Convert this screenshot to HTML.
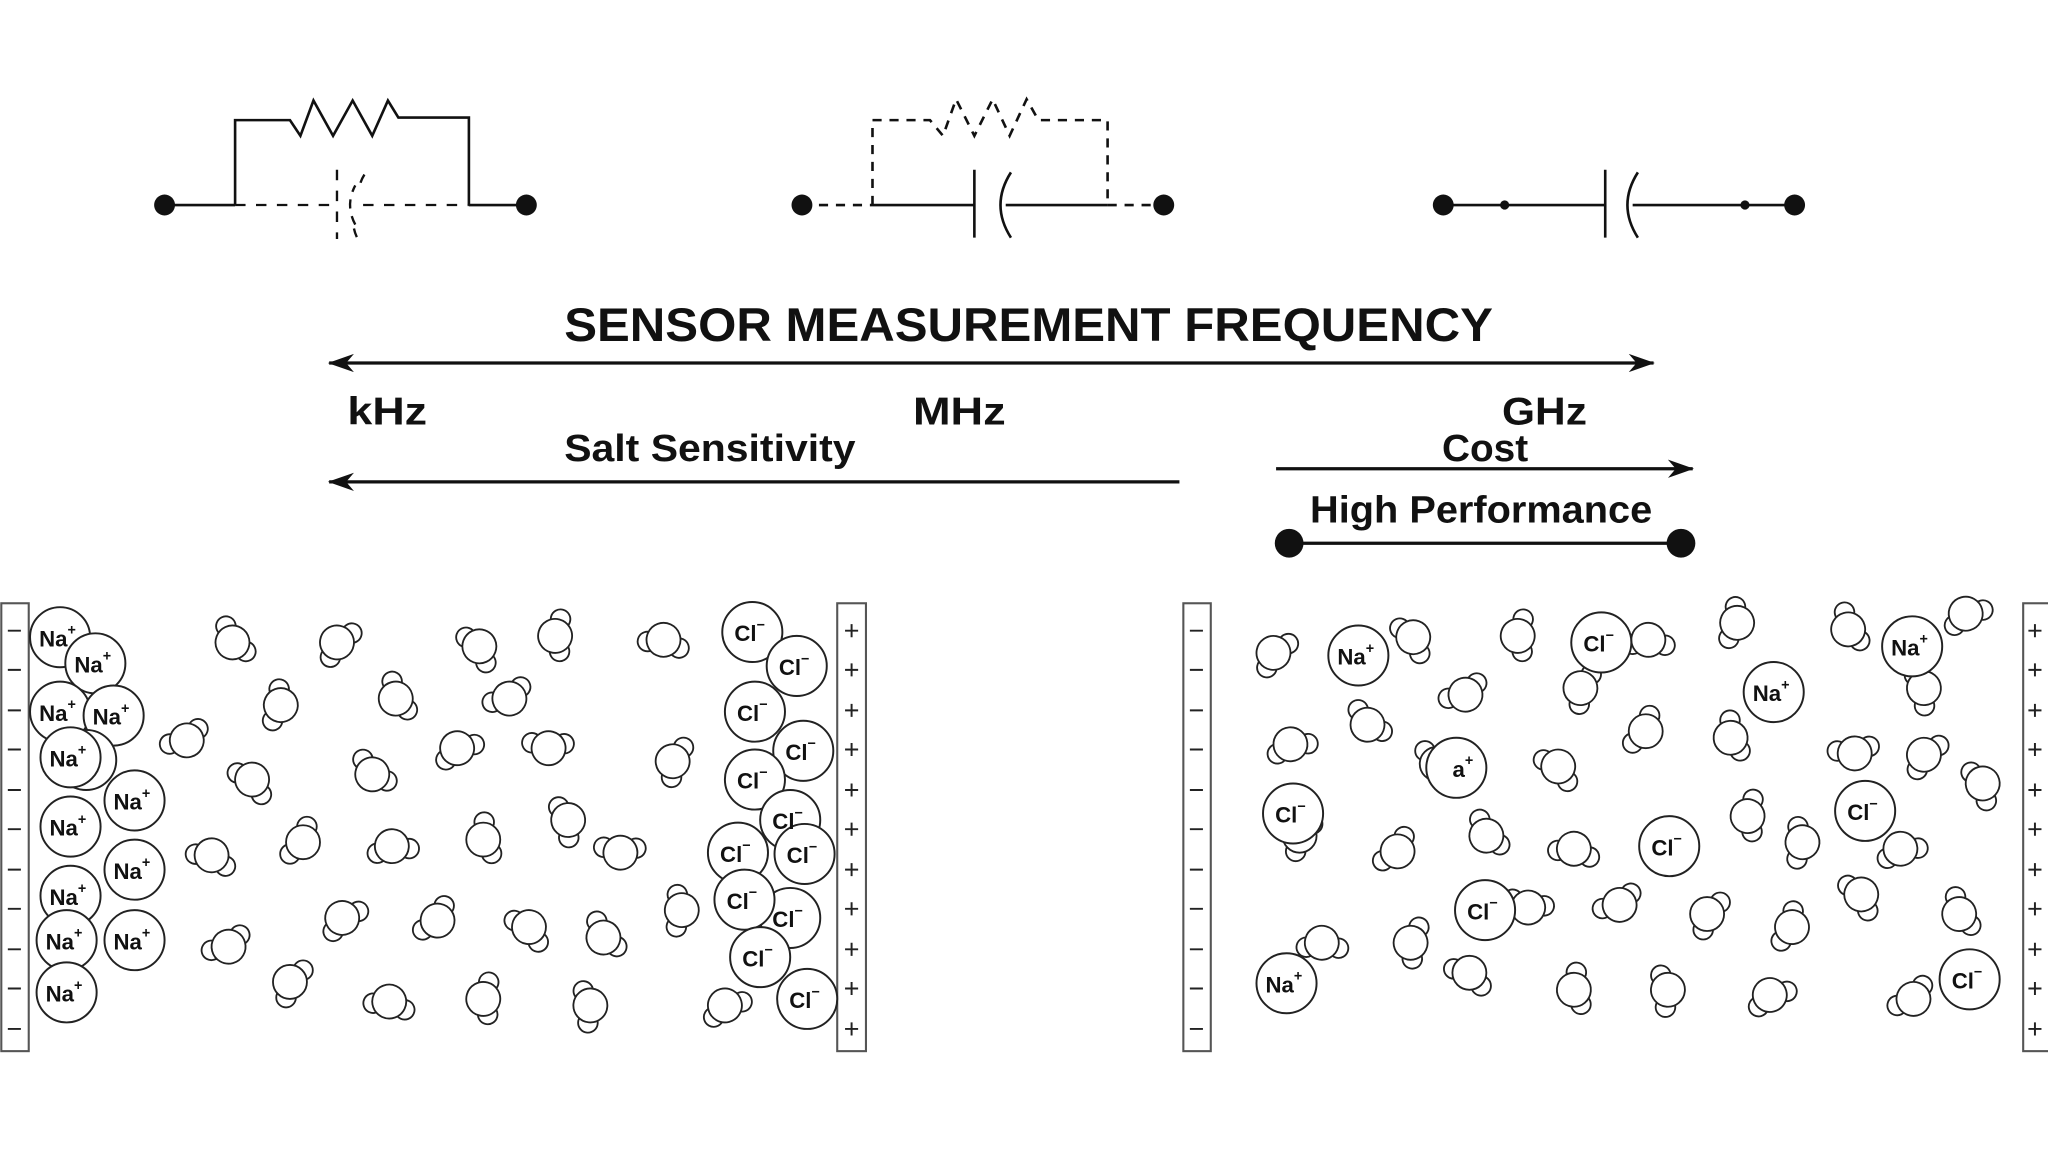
<!DOCTYPE html>
<html><head><meta charset="utf-8"><style>
html,body{margin:0;padding:0;background:#fff;}
svg{display:block;}
text{font-family:"Liberation Sans",sans-serif;font-weight:bold;fill:#111;}
</style></head><body>
<svg width="2048" height="1153" viewBox="0 0 1568 883" preserveAspectRatio="none" xmlns="http://www.w3.org/2000/svg">
<defs>
<g id="w" stroke="#222" stroke-width="1.4" fill="#fff">
<circle cx="-9" cy="-10" r="7.5"/><circle cx="12" cy="3" r="7.5"/><circle cx="0" cy="0" r="13"/>
</g>
<marker id="ah" viewBox="0 0 20 14" refX="19" refY="7" markerWidth="20" markerHeight="14" markerUnits="userSpaceOnUse" orient="auto-start-reverse">
<path d="M20,7 L0,0 L6,7 L0,14 Z" fill="#111"/></marker>
</defs>
<g stroke="#111" stroke-width="2" fill="none">
<!-- circuit 1 -->
<path d="M126,157 H180 M359,157 H403"/>
<path d="M180,157 V92 H222 L230,104 L240,77 L255,104 L270,77 L285,104 L297,77 L305,90 H359 V157"/>
<path d="M180,157 H258 M278,157 H359" stroke-dasharray="8,8" stroke-width="1.8"/>
<path d="M258,130 V183" stroke-dasharray="8,8" stroke-width="1.8"/>
<path d="M272,172 Q264,157 272,142 M276,140 Q278,134 282,130 M271,175 Q272,180 275,185" stroke-width="1.8" stroke-dasharray="7,6"/>
<!-- circuit 2 -->
<path d="M614,157 H668 M848,157 H891" stroke-dasharray="7,6"/>
<path d="M668,157 V92 H712 L722,104 L732,76 L746,104 L760,76 L773,104 L786,76 L795,92 H848 V157" stroke-dasharray="7,6"/>
<path d="M668,157 H746 M770,157 H848"/>
<path d="M746,130 V182"/>
<path d="M774,132 Q758,157 774,182"/>
<!-- circuit 3 -->
<path d="M1105,157 H1229 M1250,157 H1374"/>
<path d="M1229,130 V182"/>
<path d="M1254,132 Q1238,157 1254,182"/>
<!-- arrows -->
<path d="M252,278 H1266" marker-start="url(#ah)" marker-end="url(#ah)" stroke-width="2.5"/>
<path d="M903,369 H252" marker-end="url(#ah)" stroke-width="2.5"/>
<path d="M977,359 H1296" marker-end="url(#ah)" stroke-width="2.5"/>
<path d="M987,416 H1287" stroke-width="2.5"/>
</g>
<g fill="#111">
<circle cx="126" cy="157" r="8"/><circle cx="403" cy="157" r="8"/>
<circle cx="614" cy="157" r="8"/><circle cx="891" cy="157" r="8"/>
<circle cx="1105" cy="157" r="8"/><circle cx="1374" cy="157" r="8"/>
<circle cx="1152" cy="157" r="3.5"/><circle cx="1336" cy="157" r="3.5"/>
<circle cx="987" cy="416" r="11"/><circle cx="1287" cy="416" r="11"/>
</g>
<text x="432" y="261" font-size="36" textLength="711" lengthAdjust="spacingAndGlyphs">SENSOR MEASUREMENT FREQUENCY</text>
<text x="266" y="325" font-size="30" textLength="61" lengthAdjust="spacingAndGlyphs">kHz</text>
<text x="699" y="325" font-size="30" textLength="71" lengthAdjust="spacingAndGlyphs">MHz</text>
<text x="1150" y="325" font-size="30" textLength="65" lengthAdjust="spacingAndGlyphs">GHz</text>
<text x="432" y="353" font-size="29" textLength="223" lengthAdjust="spacingAndGlyphs">Salt Sensitivity</text>
<text x="1104" y="353" font-size="29" textLength="66" lengthAdjust="spacingAndGlyphs">Cost</text>
<text x="1003" y="400" font-size="29" textLength="262" lengthAdjust="spacingAndGlyphs">High Performance</text>
<!-- plates -->
<g fill="#fff" stroke="#555" stroke-width="1.6">
<rect x="1" y="462" width="21" height="343"/><rect x="641" y="462" width="22" height="343"/>
<rect x="906" y="462" width="21" height="343"/><rect x="1549" y="462" width="25" height="343"/>
</g>
<g stroke="#222" stroke-width="1.5">
<path d="M6,483h10M6,513h10M6,544h10M6,574h10M6,605h10M6,635h10M6,666h10M6,696h10M6,727h10M6,757h10M6,788h10"/>
<path d="M911,483h10M911,513h10M911,544h10M911,574h10M911,605h10M911,635h10M911,666h10M911,696h10M911,727h10M911,757h10M911,788h10"/>
<path d="M647,483h10M647,513h10M647,544h10M647,574h10M647,605h10M647,635h10M647,666h10M647,696h10M647,727h10M647,757h10M647,788h10"/>
<path d="M652,478v10M652,508v10M652,539v10M652,569v10M652,600v10M652,630v10M652,661v10M652,691v10M652,722v10M652,752v10M652,783v10"/>
<path d="M1553,483h10M1553,513h10M1553,544h10M1553,574h10M1553,605h10M1553,635h10M1553,666h10M1553,696h10M1553,727h10M1553,757h10M1553,788h10"/>
<path d="M1558,478v10M1558,508v10M1558,539v10M1558,569v10M1558,600v10M1558,630v10M1558,661v10M1558,691v10M1558,722v10M1558,752v10M1558,783v10"/>
</g>
<!-- waters -->
<use href="#w" transform="translate(178,492) rotate(20)"/><use href="#w" transform="translate(258,492) rotate(100)"/>
<use href="#w" transform="translate(367,495) rotate(200)"/><use href="#w" transform="translate(425,487) rotate(60)"/>
<use href="#w" transform="translate(508,490) rotate(160)"/><use href="#w" transform="translate(215,540) rotate(250)"/>
<use href="#w" transform="translate(303,535) rotate(30)"/><use href="#w" transform="translate(390,535) rotate(300)"/>
<use href="#w" transform="translate(143,567) rotate(-60)"/><use href="#w" transform="translate(350,573) rotate(120)"/>
<use href="#w" transform="translate(420,573) rotate(330)"/><use href="#w" transform="translate(515,583) rotate(80)"/>
<use href="#w" transform="translate(193,597) rotate(190)"/><use href="#w" transform="translate(285,593) rotate(10)"/>
<use href="#w" transform="translate(232,645) rotate(270)"/><use href="#w" transform="translate(300,648) rotate(140)"/>
<use href="#w" transform="translate(370,643) rotate(45)"/><use href="#w" transform="translate(435,628) rotate(220)"/>
<use href="#w" transform="translate(162,655) rotate(170)"/><use href="#w" transform="translate(475,653) rotate(-30)"/>
<use href="#w" transform="translate(262,703) rotate(110)"/><use href="#w" transform="translate(335,705) rotate(280)"/>
<use href="#w" transform="translate(405,710) rotate(190)"/><use href="#w" transform="translate(462,718) rotate(20)"/>
<use href="#w" transform="translate(522,697) rotate(240)"/><use href="#w" transform="translate(175,725) rotate(300)"/>
<use href="#w" transform="translate(222,752) rotate(90)"/><use href="#w" transform="translate(298,767) rotate(160)"/>
<use href="#w" transform="translate(370,765) rotate(60)"/><use href="#w" transform="translate(452,770) rotate(230)"/>
<use href="#w" transform="translate(555,770) rotate(120)"/>
<use href="#w" transform="translate(975,500) rotate(100)"/><use href="#w" transform="translate(1082,488) rotate(200)"/>
<use href="#w" transform="translate(1162,487) rotate(60)"/><use href="#w" transform="translate(1262,490) rotate(150)"/>
<use href="#w" transform="translate(1330,477) rotate(250)"/><use href="#w" transform="translate(1415,482) rotate(30)"/>
<use href="#w" transform="translate(1505,470) rotate(120)"/><use href="#w" transform="translate(1122,532) rotate(300)"/>
<use href="#w" transform="translate(1210,527) rotate(80)"/><use href="#w" transform="translate(1473,527) rotate(220)"/>
<use href="#w" transform="translate(1047,555) rotate(10)"/><use href="#w" transform="translate(988,570) rotate(130)"/>
<use href="#w" transform="translate(1260,560) rotate(270)"/><use href="#w" transform="translate(1325,565) rotate(40)"/>
<use href="#w" transform="translate(1193,587) rotate(190)"/><use href="#w" transform="translate(1420,577) rotate(320)"/>
<use href="#w" transform="translate(1473,578) rotate(100)"/><use href="#w" transform="translate(1518,600) rotate(210)"/>
<use href="#w" transform="translate(1138,640) rotate(20)"/><use href="#w" transform="translate(1070,652) rotate(280)"/>
<use href="#w" transform="translate(1205,650) rotate(160)"/><use href="#w" transform="translate(1338,625) rotate(60)"/>
<use href="#w" transform="translate(1380,645) rotate(240)"/><use href="#w" transform="translate(1455,650) rotate(130)"/>
<use href="#w" transform="translate(1240,693) rotate(300)"/><use href="#w" transform="translate(1307,700) rotate(90)"/>
<use href="#w" transform="translate(1425,685) rotate(200)"/><use href="#w" transform="translate(1500,700) rotate(30)"/>
<use href="#w" transform="translate(1372,710) rotate(260)"/><use href="#w" transform="translate(1012,722) rotate(150)"/>
<use href="#w" transform="translate(1080,722) rotate(70)"/><use href="#w" transform="translate(1170,695) rotate(-20)"/>
<use href="#w" transform="translate(1125,745) rotate(180)"/><use href="#w" transform="translate(1205,758) rotate(50)"/>
<use href="#w" transform="translate(1277,758) rotate(230)"/><use href="#w" transform="translate(1355,762) rotate(120)"/>
<use href="#w" transform="translate(1465,765) rotate(290)"/><use href="#w" transform="translate(1100,585) rotate(0)"/>
<use href="#w" transform="translate(995,640) rotate(90)"/>
<!-- ions -->
<g font-size="17" text-anchor="middle">
<g stroke="#222" stroke-width="1.5" fill="#fff">
<circle cx="46" cy="488" r="23"/><circle cx="73" cy="508" r="23"/><circle cx="46" cy="545" r="23"/><circle cx="87" cy="548" r="23"/>
<circle cx="66" cy="582" r="23"/><circle cx="54" cy="580" r="23"/><circle cx="103" cy="613" r="23"/><circle cx="54" cy="633" r="23"/>
<circle cx="103" cy="666" r="23"/><circle cx="54" cy="686" r="23"/><circle cx="51" cy="720" r="23"/><circle cx="103" cy="720" r="23"/><circle cx="51" cy="760" r="23"/>
<circle cx="576" cy="484" r="23"/><circle cx="610" cy="510" r="23"/><circle cx="578" cy="545" r="23"/><circle cx="615" cy="575" r="23"/>
<circle cx="578" cy="597" r="23"/><circle cx="605" cy="628" r="23"/><circle cx="565" cy="653" r="23"/><circle cx="616" cy="654" r="23"/>
<circle cx="605" cy="703" r="23"/><circle cx="570" cy="689" r="23"/><circle cx="582" cy="733" r="23"/><circle cx="618" cy="765" r="23"/>
<circle cx="1040" cy="502" r="23"/><circle cx="1464" cy="495" r="23"/><circle cx="1358" cy="530" r="23"/><circle cx="1115" cy="588" r="23"/><circle cx="985" cy="753" r="23"/>
<circle cx="1226" cy="492" r="23"/><circle cx="990" cy="623" r="23"/><circle cx="1428" cy="621" r="23"/><circle cx="1278" cy="648" r="23"/><circle cx="1137" cy="697" r="23"/><circle cx="1508" cy="750" r="23"/>
</g>
<g>
<text x="44" y="495">Na<tspan font-size="11" dy="-9">+</tspan></text><text x="71" y="515">Na<tspan font-size="11" dy="-9">+</tspan></text>
<text x="44" y="552">Na<tspan font-size="11" dy="-9">+</tspan></text><text x="85" y="555">Na<tspan font-size="11" dy="-9">+</tspan></text>
<text x="52" y="587">Na<tspan font-size="11" dy="-9">+</tspan></text><text x="101" y="620">Na<tspan font-size="11" dy="-9">+</tspan></text>
<text x="52" y="640">Na<tspan font-size="11" dy="-9">+</tspan></text><text x="101" y="673">Na<tspan font-size="11" dy="-9">+</tspan></text>
<text x="52" y="693">Na<tspan font-size="11" dy="-9">+</tspan></text><text x="49" y="727">Na<tspan font-size="11" dy="-9">+</tspan></text>
<text x="101" y="727">Na<tspan font-size="11" dy="-9">+</tspan></text><text x="49" y="767">Na<tspan font-size="11" dy="-9">+</tspan></text>
<text x="574" y="491">Cl<tspan font-size="11" dy="-9">−</tspan></text><text x="608" y="517">Cl<tspan font-size="11" dy="-9">−</tspan></text>
<text x="576" y="552">Cl<tspan font-size="11" dy="-9">−</tspan></text><text x="613" y="582">Cl<tspan font-size="11" dy="-9">−</tspan></text>
<text x="576" y="604">Cl<tspan font-size="11" dy="-9">−</tspan></text><text x="603" y="635">Cl<tspan font-size="11" dy="-9">−</tspan></text>
<text x="563" y="660">Cl<tspan font-size="11" dy="-9">−</tspan></text><text x="614" y="661">Cl<tspan font-size="11" dy="-9">−</tspan></text>
<text x="603" y="710">Cl<tspan font-size="11" dy="-9">−</tspan></text><text x="568" y="696">Cl<tspan font-size="11" dy="-9">−</tspan></text>
<text x="580" y="740">Cl<tspan font-size="11" dy="-9">−</tspan></text><text x="616" y="772">Cl<tspan font-size="11" dy="-9">−</tspan></text>
<text x="1038" y="509">Na<tspan font-size="11" dy="-9">+</tspan></text><text x="1462" y="502">Na<tspan font-size="11" dy="-9">+</tspan></text>
<text x="1356" y="537">Na<tspan font-size="11" dy="-9">+</tspan></text><text x="1120" y="595">a<tspan font-size="11" dy="-9">+</tspan></text>
<text x="983" y="760">Na<tspan font-size="11" dy="-9">+</tspan></text>
<text x="1224" y="499">Cl<tspan font-size="11" dy="-9">−</tspan></text><text x="988" y="630">Cl<tspan font-size="11" dy="-9">−</tspan></text>
<text x="1426" y="628">Cl<tspan font-size="11" dy="-9">−</tspan></text><text x="1276" y="655">Cl<tspan font-size="11" dy="-9">−</tspan></text>
<text x="1135" y="704">Cl<tspan font-size="11" dy="-9">−</tspan></text><text x="1506" y="757">Cl<tspan font-size="11" dy="-9">−</tspan></text>
</g>
</g>
</svg>
</body></html>
